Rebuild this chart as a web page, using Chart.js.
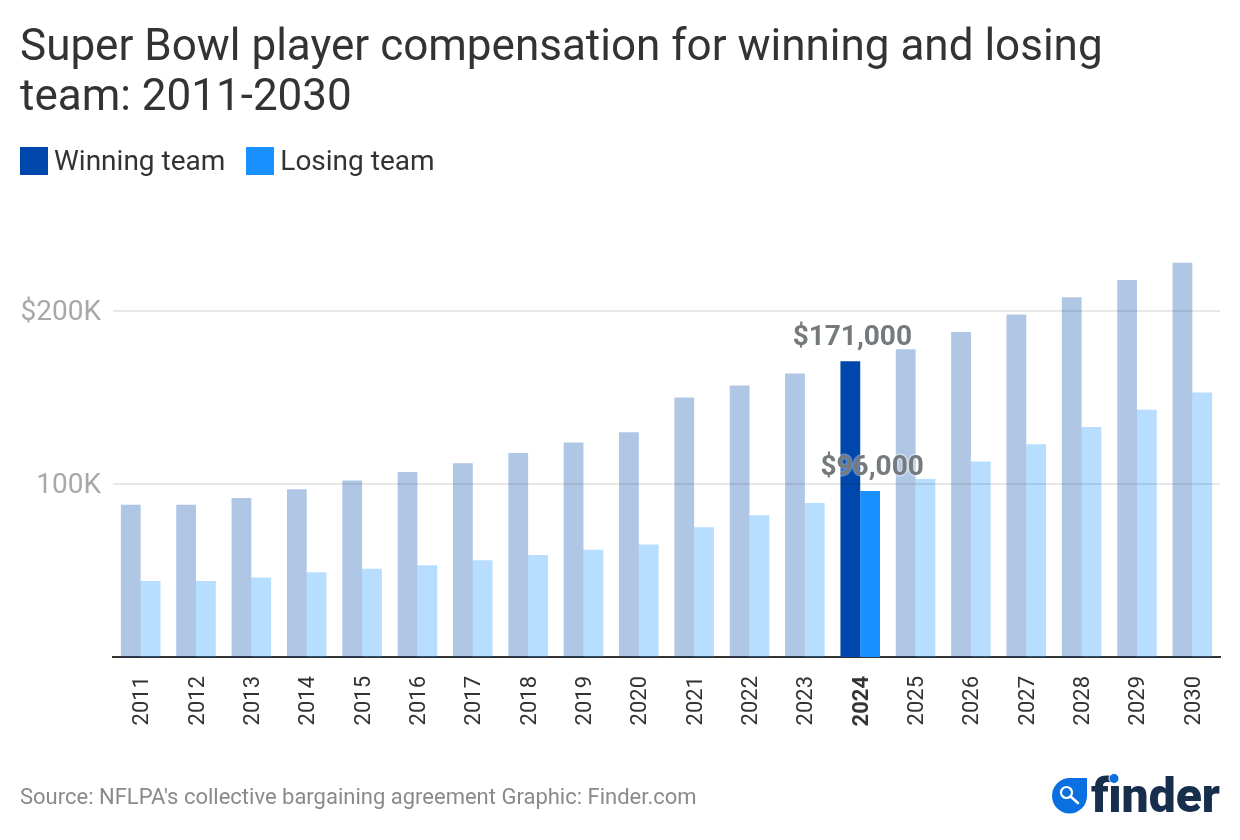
<!DOCTYPE html>
<html>
<head>
<meta charset="utf-8">
<style>
  html, body { margin: 0; padding: 0; background: #fff; }
  body { width: 1240px; height: 840px; position: relative; overflow: hidden; font-family: Roboto, sans-serif; }
  canvas { position: absolute; left: 0; top: 0; }
  #legend { position: absolute; left: 20px; top: 145px; display: flex; color: #333; font-size: 28px; line-height: 32px; }
  #legend .item { display: flex; align-items: center; margin-right: 21px; }
  #legend .swatch { width: 28px; height: 28px; margin-right: 6px; }
  #source { position: absolute; left: 20px; top: 784px; font-size: 22px; line-height: 26px; color: #8a8a8a; white-space: nowrap; }
  #logo { position: absolute; left: 1045px; top: 765px; }
</style>
<script src="https://cdn.jsdelivr.net/npm/chart.js@4/dist/chart.umd.min.js"></script>
</head>
<body>
<canvas id="chart" width="1240" height="840"></canvas>
<div id="legend"></div>
<div id="source">Source: NFLPA's collective bargaining agreement Graphic: Finder.com</div>
<svg id="logo" width="185" height="60" viewBox="0 0 185 60">
  <path d="M7 31 A17.5 17.5 0 0 0 42 31 L42 13 L25 13 A18 18 0 0 0 7 31 Z" fill="#0a6fe0"/>
  <circle cx="21.5" cy="27.5" r="5.5" fill="none" stroke="#fff" stroke-width="2.2"/>
  <line x1="25.5" y1="31.5" x2="33" y2="38" stroke="#fff" stroke-width="2.6" stroke-linecap="round"/>
  <text x="46" y="47" font-family="Roboto" font-weight="900" font-size="48" textLength="129" lengthAdjust="spacingAndGlyphs" fill="#172e4d">finder</text>
  <circle cx="69" cy="13.5" r="5" fill="#0a6fe0" stroke="#fff" stroke-width="1"/>
</svg>
<script>
// Super Bowl player pay per year, split by winning and losing team
const years = ['2011','2012','2013','2014','2015','2016','2017','2018','2019','2020',
               '2021','2022','2023','2024','2025','2026','2027','2028','2029','2030'];
const winningTeam = [88000,88000,92000,97000,102000,107000,112000,118000,124000,130000,
                     150000,157000,164000,171000,178000,188000,198000,208000,218000,228000];
const losingTeam = [44000,44000,46000,49000,51000,53000,56000,59000,62000,65000,
                    75000,82000,89000,96000,103000,113000,123000,133000,143000,153000];
const yTickValues = [0, 100000, 200000];
const highlightYear = '2024';
const titleLines = ['Super Bowl player compensation for winning and losing', 'team: 2011-2030'];

const winningColor = '#0047ab';
const losingColor = '#1890ff';
const winningMuted = 'rgba(0,71,171,0.31)';
const losingMuted = 'rgba(24,144,255,0.31)';
const highlightIndex = years.indexOf(highlightYear);

// Full colour for the current year, faded for every other year
const barColors = (full, muted) => years.map((y, i) => i === highlightIndex ? full : muted);

// Writes the dollar value above both bars of the current year
const valueLabels = {
  id: 'valueLabels',
  afterDraw(chart) {
    const { ctx } = chart;
    ctx.save();
    ctx.font = '700 28px Roboto';
    ctx.textAlign = 'center';
    ctx.textBaseline = 'alphabetic';
    ctx.lineJoin = 'round';
    chart.data.datasets.forEach((ds, d) => {
      const bar = chart.getDatasetMeta(d).data[highlightIndex];
      const text = '$' + ds.data[highlightIndex].toLocaleString('en-US');
      ctx.strokeStyle = 'rgba(255,255,255,0.35)';
      ctx.lineWidth = 3;
      ctx.strokeText(text, bar.x + 2, bar.y - 16);
      ctx.fillStyle = '#757a7d';
      ctx.fillText(text, bar.x + 2, bar.y - 16);
    });
    ctx.restore();
  }
};

const chart = new Chart(document.getElementById('chart'), {
  type: 'bar',
  data: {
    labels: years,
    datasets: [
      { label: 'Winning team', data: winningTeam, backgroundColor: barColors(winningColor, winningMuted), swatch: winningColor },
      { label: 'Losing team', data: losingTeam, backgroundColor: barColors(losingColor, losingMuted), swatch: losingColor }
    ]
  },
  options: {
    responsive: false,
    animation: false,
    devicePixelRatio: 1,
    layout: { padding: { left: 20, right: 20, top: 24, bottom: 0 } },
    datasets: { bar: { categoryPercentage: 0.715, barPercentage: 1 } },
    plugins: {
      legend: { display: false },
      tooltip: { enabled: false },
      title: {
        display: true,
        text: titleLines,
        align: 'start',
        color: '#333333',
        font: { family: 'Roboto', size: 44, weight: '400', lineHeight: 1.136 },
        padding: { top: 0, bottom: 118 }
      }
    },
    scales: {
      x: {
        grid: { display: false },
        border: { color: '#333333', width: 2 },
        afterFit(scale) { scale.height = 183; },
        ticks: {
          minRotation: 90,
          maxRotation: 90,
          autoSkip: false,
          padding: 11,
          labelOffset: 2,
          color: '#333333',
          font: ctx => ({
            family: 'Roboto',
            size: 22,
            weight: ctx.index === highlightIndex ? '700' : '400'
          })
        }
      },
      y: {
        min: 0,
        max: 240000,
        afterFit(scale) { scale.width = 93; },
        afterBuildTicks(scale) { scale.ticks = yTickValues.map(value => ({ value })); },
        border: { display: false },
        grid: {
          z: 1,
          drawTicks: false,
          lineWidth: ctx => ctx.tick.value === 0 ? 0 : 2,
          color: 'rgba(0,0,0,0.09)'
        },
        ticks: {
          autoSkip: false,
          padding: 12,
          labelOffset: 2,
          color: '#a8a8a8',
          font: { family: 'Roboto', size: 28 },
          callback(v) {
            if (v === 0) return '';
            const k = (v / 1000) + 'K';
            return v === 200000 ? '$' + k : k;
          }
        }
      }
    }
  },
  plugins: [valueLabels]
});

// Legend row built from the chart's own datasets
const legendEl = document.getElementById('legend');
chart.data.datasets.forEach(ds => {
  const item = document.createElement('div');
  item.className = 'item';
  const swatch = document.createElement('span');
  swatch.className = 'swatch';
  swatch.style.background = ds.swatch;
  const label = document.createElement('span');
  label.textContent = ds.label;
  item.append(swatch, label);
  legendEl.append(item);
});
</script>
</body>
</html>
